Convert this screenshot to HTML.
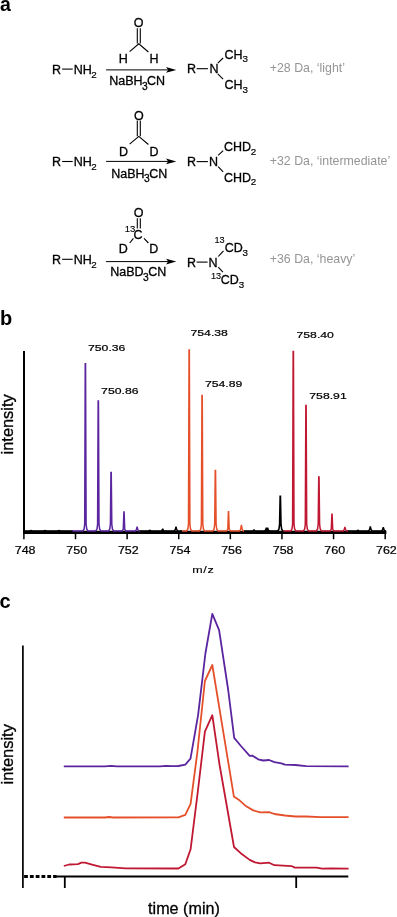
<!DOCTYPE html>
<html lang="en">
<head>
<meta charset="utf-8">
<title>Stable isotope dimethyl labeling</title>
<style>
html,body{margin:0;padding:0;background:#fff;}
body{width:397px;height:917px;overflow:hidden;}
svg{display:block;font-family:'Liberation Sans', Arial, Helvetica, sans-serif;}
</style>
</head>
<body>
<svg width="397" height="917" viewBox="0 0 397 917" style="font-family:'Liberation Sans', Arial, Helvetica, sans-serif">
<rect x="0" y="0" width="397" height="917" fill="#ffffff"/>
<text x="0" y="11.3" font-size="19.5" fill="#000" text-anchor="start" font-weight="bold">a</text>
<text x="0" y="325" font-size="20" fill="#000" text-anchor="start" font-weight="bold">b</text>
<text x="-0.5" y="608" font-size="20" fill="#000" text-anchor="start" font-weight="bold">c</text>
<text x="52.1" y="73.5" font-size="12.5" fill="#000" text-anchor="start" stroke="#000" stroke-width="0.3">R</text>
<line x1="62.1" y1="69.1" x2="72.7" y2="69.1" stroke="#000" stroke-width="1.1"/>
<text x="73.7" y="73.5" font-size="12.5" fill="#000" text-anchor="start" stroke="#000" stroke-width="0.3">NH</text>
<text x="91.2" y="77.8" font-size="9.8" fill="#000" text-anchor="start" stroke="#000" stroke-width="0.2">2</text>
<line x1="106.1" y1="69.9" x2="168" y2="69.9" stroke="#000" stroke-width="1.0"/>
<path d="M176.3,69.9 L166.0,67.0 L168.2,69.9 L166.0,72.80000000000001 Z" fill="#000"/>
<text x="109.2" y="85.3" font-size="12.5" fill="#000" text-anchor="start" stroke="#000" stroke-width="0.3">NaBH</text>
<text x="141.9" y="90.0" font-size="10.2" fill="#000" text-anchor="start" stroke="#000" stroke-width="0.3">3</text>
<text x="147.1" y="85.3" font-size="12.5" fill="#000" text-anchor="start" stroke="#000" stroke-width="0.3">CN</text>
<text x="138.7" y="27.1" font-size="12.5" fill="#000" text-anchor="middle" stroke="#000" stroke-width="0.3">O</text>
<line x1="137.3" y1="28.3" x2="137.3" y2="43.6" stroke="#000" stroke-width="1.1"/>
<line x1="140.3" y1="28.3" x2="140.3" y2="43.6" stroke="#000" stroke-width="1.1"/>
<path d="M129.6,51.7 L138.8,43.8 L148.4,52" fill="none" stroke="#000" stroke-width="1.1"/>
<text x="118.8" y="63.2" font-size="12.5" fill="#000" text-anchor="start" stroke="#000" stroke-width="0.3">H</text>
<text x="149.6" y="63.2" font-size="12.5" fill="#000" text-anchor="start" stroke="#000" stroke-width="0.3">H</text>
<text x="186.9" y="73.0" font-size="12.5" fill="#000" text-anchor="start" stroke="#000" stroke-width="0.3">R</text>
<line x1="196.6" y1="68.7" x2="207.9" y2="68.7" stroke="#000" stroke-width="1.1"/>
<text x="209.5" y="73.0" font-size="12.5" fill="#000" text-anchor="start" stroke="#000" stroke-width="0.3">N</text>
<line x1="217.8" y1="63.2" x2="223.1" y2="58.0" stroke="#000" stroke-width="1.1"/>
<line x1="217.8" y1="73.9" x2="223.1" y2="79.1" stroke="#000" stroke-width="1.1"/>
<text x="224.5" y="58.7" font-size="12.5" fill="#000" text-anchor="start" stroke="#000" stroke-width="0.3">CH</text>
<text x="242.5" y="62.0" font-size="9.8" fill="#000" text-anchor="start" stroke="#000" stroke-width="0.2">3</text>
<text x="224.5" y="89.1" font-size="12.5" fill="#000" text-anchor="start" stroke="#000" stroke-width="0.3">CH</text>
<text x="242.5" y="93.0" font-size="9.8" fill="#000" text-anchor="start" stroke="#000" stroke-width="0.2">3</text>
<text x="269.8" y="72.3" font-size="12.35" fill="#959595" text-anchor="start">+28 Da, ‘light’</text>
<text x="52.1" y="165.8" font-size="12.5" fill="#000" text-anchor="start" stroke="#000" stroke-width="0.3">R</text>
<line x1="62.1" y1="161.5" x2="72.7" y2="161.5" stroke="#000" stroke-width="1.1"/>
<text x="73.7" y="165.8" font-size="12.5" fill="#000" text-anchor="start" stroke="#000" stroke-width="0.3">NH</text>
<text x="91.2" y="170.10000000000002" font-size="9.8" fill="#000" text-anchor="start" stroke="#000" stroke-width="0.2">2</text>
<line x1="106.1" y1="161.4" x2="168" y2="161.4" stroke="#000" stroke-width="1.0"/>
<path d="M176.3,161.4 L166.0,158.5 L168.2,161.4 L166.0,164.3 Z" fill="#000"/>
<text x="111.3" y="177.7" font-size="12.5" fill="#000" text-anchor="start" stroke="#000" stroke-width="0.3">NaBH</text>
<text x="144.0" y="182.39999999999998" font-size="10.2" fill="#000" text-anchor="start" stroke="#000" stroke-width="0.3">3</text>
<text x="149.2" y="177.7" font-size="12.5" fill="#000" text-anchor="start" stroke="#000" stroke-width="0.3">CN</text>
<text x="138.9" y="119.7" font-size="12.5" fill="#000" text-anchor="middle" stroke="#000" stroke-width="0.3">O</text>
<line x1="137.3" y1="120.4" x2="137.3" y2="136.2" stroke="#000" stroke-width="1.1"/>
<line x1="140.3" y1="120.4" x2="140.3" y2="136.2" stroke="#000" stroke-width="1.1"/>
<path d="M129.6,144.2 L138.8,136.4 L148.4,144.5" fill="none" stroke="#000" stroke-width="1.1"/>
<text x="119.0" y="155.7" font-size="12.5" fill="#000" text-anchor="start" stroke="#000" stroke-width="0.3">D</text>
<text x="149.6" y="155.7" font-size="12.5" fill="#000" text-anchor="start" stroke="#000" stroke-width="0.3">D</text>
<text x="186.9" y="166.0" font-size="12.5" fill="#000" text-anchor="start" stroke="#000" stroke-width="0.3">R</text>
<line x1="196.6" y1="161.6" x2="207.9" y2="161.6" stroke="#000" stroke-width="1.1"/>
<text x="208.9" y="166.0" font-size="12.5" fill="#000" text-anchor="start" stroke="#000" stroke-width="0.3">N</text>
<line x1="218.1" y1="155.4" x2="223.2" y2="150.6" stroke="#000" stroke-width="1.1"/>
<line x1="218.1" y1="166.6" x2="223.2" y2="171.8" stroke="#000" stroke-width="1.1"/>
<text x="224.0" y="151.3" font-size="12.5" fill="#000" text-anchor="start" stroke="#000" stroke-width="0.3">CHD</text>
<text x="250.8" y="154.7" font-size="9.8" fill="#000" text-anchor="start" stroke="#000" stroke-width="0.2">2</text>
<text x="224.0" y="181.9" font-size="12.5" fill="#000" text-anchor="start" stroke="#000" stroke-width="0.3">CHD</text>
<text x="250.8" y="185.4" font-size="9.8" fill="#000" text-anchor="start" stroke="#000" stroke-width="0.2">2</text>
<text x="269.8" y="165.3" font-size="12.35" fill="#959595" text-anchor="start">+32 Da, ‘intermediate’</text>
<text x="52.1" y="263.8" font-size="12.5" fill="#000" text-anchor="start" stroke="#000" stroke-width="0.3">R</text>
<line x1="62.1" y1="259.3" x2="72.7" y2="259.3" stroke="#000" stroke-width="1.1"/>
<text x="73.7" y="263.8" font-size="12.5" fill="#000" text-anchor="start" stroke="#000" stroke-width="0.3">NH</text>
<text x="91.2" y="268.1" font-size="9.8" fill="#000" text-anchor="start" stroke="#000" stroke-width="0.2">2</text>
<line x1="106.1" y1="261.6" x2="168" y2="261.6" stroke="#000" stroke-width="1.0"/>
<path d="M176.3,261.6 L166.0,258.70000000000005 L168.2,261.6 L166.0,264.5 Z" fill="#000"/>
<text x="110.3" y="276.2" font-size="12.5" fill="#000" text-anchor="start" stroke="#000" stroke-width="0.3">NaBD</text>
<text x="143.0" y="280.9" font-size="10.2" fill="#000" text-anchor="start" stroke="#000" stroke-width="0.3">3</text>
<text x="148.2" y="276.2" font-size="12.5" fill="#000" text-anchor="start" stroke="#000" stroke-width="0.3">CN</text>
<text x="138.7" y="217.2" font-size="12.5" fill="#000" text-anchor="middle" stroke="#000" stroke-width="0.3">O</text>
<line x1="137.3" y1="218.3" x2="137.3" y2="228.6" stroke="#000" stroke-width="1.1"/>
<line x1="140.3" y1="218.3" x2="140.3" y2="228.6" stroke="#000" stroke-width="1.1"/>
<text x="133.6" y="239.0" font-size="12.5" fill="#000" text-anchor="start" stroke="#000" stroke-width="0.3">C</text>
<text x="124.7" y="231.7" font-size="9.5" fill="#000" text-anchor="start" stroke="#000" stroke-width="0.12">13</text>
<line x1="133.4" y1="238.3" x2="129.7" y2="243.0" stroke="#000" stroke-width="1.1"/>
<line x1="144.0" y1="238.3" x2="148.4" y2="243.0" stroke="#000" stroke-width="1.1"/>
<text x="118.7" y="253.4" font-size="12.5" fill="#000" text-anchor="start" stroke="#000" stroke-width="0.3">D</text>
<text x="149.3" y="253.4" font-size="12.5" fill="#000" text-anchor="start" stroke="#000" stroke-width="0.3">D</text>
<text x="186.9" y="266.8" font-size="12.5" fill="#000" text-anchor="start" stroke="#000" stroke-width="0.3">R</text>
<line x1="196.6" y1="262.1" x2="207.6" y2="262.1" stroke="#000" stroke-width="1.1"/>
<text x="208.4" y="267.0" font-size="12.5" fill="#000" text-anchor="start" stroke="#000" stroke-width="0.3">N</text>
<line x1="218.3" y1="256.5" x2="223.5" y2="250.8" stroke="#000" stroke-width="1.1"/>
<line x1="218.3" y1="267.1" x2="222.9" y2="272.2" stroke="#000" stroke-width="1.1"/>
<text x="214.4" y="242.8" font-size="9.2" fill="#000" text-anchor="start" stroke="#000" stroke-width="0.12">13</text>
<text x="224.8" y="252.3" font-size="12.5" fill="#000" text-anchor="start" stroke="#000" stroke-width="0.3">CD</text>
<text x="242.6" y="256.1" font-size="9.8" fill="#000" text-anchor="start" stroke="#000" stroke-width="0.2">3</text>
<text x="210.9" y="278.7" font-size="9.2" fill="#000" text-anchor="start" stroke="#000" stroke-width="0.12">13</text>
<text x="220.7" y="284.3" font-size="12.5" fill="#000" text-anchor="start" stroke="#000" stroke-width="0.3">CD</text>
<text x="238.8" y="288.2" font-size="9.8" fill="#000" text-anchor="start" stroke="#000" stroke-width="0.2">3</text>
<text x="269.8" y="262.5" font-size="12.35" fill="#959595" text-anchor="start">+36 Da, ‘heavy’</text>
<line x1="24" y1="351" x2="24" y2="533" stroke="#000" stroke-width="2.0"/>
<line x1="23" y1="532.3" x2="386.4" y2="532.3" stroke="#000" stroke-width="3.2"/>
<line x1="23.9" y1="532" x2="23.9" y2="539.2" stroke="#000" stroke-width="1.5"/>
<text transform="translate(25.1,554.1) scale(1.25,1)" font-size="10" fill="#000" text-anchor="middle" stroke="#000" stroke-width="0.2">748</text>
<line x1="75.50999999999999" y1="532" x2="75.50999999999999" y2="539.2" stroke="#000" stroke-width="1.5"/>
<text transform="translate(76.71,554.1) scale(1.25,1)" font-size="10" fill="#000" text-anchor="middle" stroke="#000" stroke-width="0.2">750</text>
<line x1="127.12" y1="532" x2="127.12" y2="539.2" stroke="#000" stroke-width="1.5"/>
<text transform="translate(128.32,554.1) scale(1.25,1)" font-size="10" fill="#000" text-anchor="middle" stroke="#000" stroke-width="0.2">752</text>
<line x1="178.73" y1="532" x2="178.73" y2="539.2" stroke="#000" stroke-width="1.5"/>
<text transform="translate(179.93,554.1) scale(1.25,1)" font-size="10" fill="#000" text-anchor="middle" stroke="#000" stroke-width="0.2">754</text>
<line x1="230.34" y1="532" x2="230.34" y2="539.2" stroke="#000" stroke-width="1.5"/>
<text transform="translate(231.54,554.1) scale(1.25,1)" font-size="10" fill="#000" text-anchor="middle" stroke="#000" stroke-width="0.2">756</text>
<line x1="281.95" y1="532" x2="281.95" y2="539.2" stroke="#000" stroke-width="1.5"/>
<text transform="translate(283.15,554.1) scale(1.25,1)" font-size="10" fill="#000" text-anchor="middle" stroke="#000" stroke-width="0.2">758</text>
<line x1="333.55999999999995" y1="532" x2="333.55999999999995" y2="539.2" stroke="#000" stroke-width="1.5"/>
<text transform="translate(334.76,554.1) scale(1.25,1)" font-size="10" fill="#000" text-anchor="middle" stroke="#000" stroke-width="0.2">760</text>
<line x1="385.16999999999996" y1="532" x2="385.16999999999996" y2="539.2" stroke="#000" stroke-width="1.5"/>
<text transform="translate(386.37,554.1) scale(1.25,1)" font-size="10" fill="#000" text-anchor="middle" stroke="#000" stroke-width="0.2">762</text>
<text transform="translate(192.2,573.1) scale(1.33,1)" font-size="9.4" fill="#000" text-anchor="start" letter-spacing="0.5" stroke="#000" stroke-width="0.12">m/z</text>
<text transform="translate(12.8,454.4) rotate(-90)" font-size="16" fill="#000" text-anchor="start" textLength="60.1" lengthAdjust="spacingAndGlyphs" stroke="#000" stroke-width="0.3">intensity</text>
<path d="M24,531.1 L29.2,531.1 L30.3,530.9 L30.9,530.6 L31.1,530.6 L31.7,530.9 L32.8,531.1 L43.2,531.1 L44.3,530.9 L44.9,530.6 L45.1,530.6 L45.7,530.9 L46.8,531.1 L57.2,531.1 L58.3,530.9 L58.9,530.6 L59.1,530.6 L59.7,530.9 L60.8,531.1 L73,531.1" fill="none" stroke="#000" stroke-width="1.6" stroke-linejoin="miter" stroke-miterlimit="20"/>
<path d="M138.5,531.1 L148.0,531.1 L149.1,530.82 L149.7,530.4 L149.9,530.4 L150.5,530.82 L151.6,531.1 L160.9,531.1 L162.0,530.34 L162.6,529.2 L162.8,529.2 L163.4,530.34 L164.5,531.1 L174.2,531.1 L175.3,529.62 L175.9,527.4 L176.1,527.4 L176.7,529.62 L177.8,531.1 L182.2,531.1" fill="none" stroke="#000" stroke-width="1.6" stroke-linejoin="miter" stroke-miterlimit="20"/>
<path d="M244,531.1 L252.2,531.1 L253.3,530.66 L253.9,530.0 L254.1,530.0 L254.7,530.66 L255.8,531.1 L264.5,531.1 L265.6,529.94 L266.2,528.2 L266.4,528.2 L267.0,529.94 L268.1,531.1 L265.8,531.1 L266.9,529.94 L267.5,528.2 L267.7,528.2 L268.3,529.94 L269.4,531.1 L277.7,531.1 L279.0,528.9 L279.6,524.1 L280.15,496.4 L280.45,496.4 L281.0,524.1 L281.6,528.9 L282.9,531.1 L283.6,531.1" fill="none" stroke="#000" stroke-width="1.6" stroke-linejoin="miter" stroke-miterlimit="20"/>
<path d="M346.5,531.1 L356.2,531.1 L357.3,530.74 L357.9,530.2 L358.1,530.2 L358.7,530.74 L359.8,531.1 L368.5,531.1 L369.6,529.46 L370.2,527.0 L370.4,527.0 L371.0,529.46 L372.1,531.1 L381.5,531.1 L382.6,529.78 L383.2,527.8 L383.4,527.8 L384.0,529.78 L385.1,531.1 L386,531.1" fill="none" stroke="#000" stroke-width="1.6" stroke-linejoin="miter" stroke-miterlimit="20"/>
<path d="M72.3,531.1 L82.8,531.1 L84.1,528.9 L84.7,524.1 L85.25,363.8 L85.55,363.8 L86.1,524.1 L86.7,528.9 L88.0,531.1 L95.7,531.1 L97.0,528.9 L97.6,524.1 L98.15,401.1 L98.45,401.1 L99.0,524.1 L99.6,528.9 L100.9,531.1 L108.5,531.1 L109.8,528.9 L110.4,524.1 L110.95,472.4 L111.25,472.4 L111.8,524.1 L112.4,528.9 L113.7,531.1 L122.2,531.1 L123.3,529.1 L123.9,512.1 L124.1,512.1 L124.7,529.1 L125.8,531.1 L135.3,531.1 L136.4,529.58 L137.0,527.3 L137.2,527.3 L137.8,529.58 L138.9,531.1 L138.5,531.1" fill="none" stroke="#5a259e" stroke-width="1.5" stroke-linejoin="miter" stroke-miterlimit="20"/>
<path d="M182.2,531.1 L186.6,531.1 L187.9,528.9 L188.5,524.1 L189.05,349.9 L189.35,349.9 L189.9,524.1 L190.5,528.9 L191.8,531.1 L199.5,531.1 L200.8,528.9 L201.4,524.1 L201.95,395.5 L202.25,395.5 L202.8,524.1 L203.4,528.9 L204.7,531.1 L212.8,531.1 L214.1,528.9 L214.7,524.1 L215.25,470.4 L215.55,470.4 L216.1,524.1 L216.7,528.9 L218.0,531.1 L226.7,531.1 L227.8,529.1 L228.4,511.8 L228.6,511.8 L229.2,529.1 L230.3,531.1 L239.6,531.1 L240.7,529.1 L241.3,525.6 L241.5,525.6 L242.1,529.1 L243.2,531.1 L244,531.1" fill="none" stroke="#e5502a" stroke-width="1.5" stroke-linejoin="miter" stroke-miterlimit="20"/>
<path d="M283.6,531.1 L290.7,531.1 L292.0,528.9 L292.6,524.1 L293.15,351.4 L293.45,351.4 L294.0,524.1 L294.6,528.9 L295.9,531.1 L303.4,531.1 L304.7,528.9 L305.3,524.1 L305.85,405.6 L306.15,405.6 L306.7,524.1 L307.3,528.9 L308.6,531.1 L316.3,531.1 L317.6,528.9 L318.2,524.1 L318.75,476.9 L319.05,476.9 L319.6,524.1 L320.2,528.9 L321.5,531.1 L330.2,531.1 L331.3,529.1 L331.9,514.2 L332.1,514.2 L332.7,529.1 L333.8,531.1 L343.1,531.1 L344.2,529.7 L344.8,527.6 L345.0,527.6 L345.6,529.7 L346.7,531.1 L346.5,531.1" fill="none" stroke="#c01832" stroke-width="1.5" stroke-linejoin="miter" stroke-miterlimit="20"/>
<text transform="translate(88.0,351.3) scale(1.36,1)" font-size="9" fill="#000" text-anchor="start" stroke="#000" stroke-width="0.2">750.36</text>
<text transform="translate(101.1,394.2) scale(1.36,1)" font-size="9" fill="#000" text-anchor="start" stroke="#000" stroke-width="0.2">750.86</text>
<text transform="translate(190.5,336.0) scale(1.36,1)" font-size="9" fill="#000" text-anchor="start" stroke="#000" stroke-width="0.2">754.38</text>
<text transform="translate(204.9,387.3) scale(1.36,1)" font-size="9" fill="#000" text-anchor="start" stroke="#000" stroke-width="0.2">754.89</text>
<text transform="translate(296.5,337.6) scale(1.36,1)" font-size="9" fill="#000" text-anchor="start" stroke="#000" stroke-width="0.2">758.40</text>
<text transform="translate(309.3,399.4) scale(1.36,1)" font-size="9" fill="#000" text-anchor="start" stroke="#000" stroke-width="0.2">758.91</text>
<line x1="22.9" y1="645.4" x2="22.9" y2="888" stroke="#000" stroke-width="1.7"/>
<line x1="56" y1="876.4" x2="348.3" y2="876.4" stroke="#000" stroke-width="2.0"/>
<line x1="22.9" y1="876.4" x2="56.5" y2="876.4" stroke="#000" stroke-width="3.0" stroke-dasharray="3.8 2.0" stroke-dashoffset="-1.2"/>
<line x1="64.8" y1="876.4" x2="64.8" y2="888" stroke="#000" stroke-width="1.8"/>
<line x1="296.2" y1="876.4" x2="296.2" y2="888" stroke="#000" stroke-width="1.8"/>
<text x="148.1" y="913.6" font-size="16.15" fill="#000" text-anchor="start" stroke="#000" stroke-width="0.3">time (min)</text>
<text transform="translate(12.8,784.4) rotate(-90)" font-size="16" fill="#000" stroke="#000" stroke-width="0.3" textLength="60.3" lengthAdjust="spacingAndGlyphs">intensity</text>
<path d="M63.8,766.3 L105,766.3 L111,765.9 L117,766.3 L160,766.3 L166,765.9 L172,766.1 L178.4,766.0 L185.3,764.6 L190.5,758.6 L198.1,715.2 L205.4,653.5 L212.3,613.9 L219.1,630.2 L228.2,690 L234.2,737.9 L240.5,745.5 L249.7,755.9 L252.5,755.7 L258.2,759.3 L263.2,760.5 L269.1,760.0 L274.4,762.2 L281.4,763.3 L284.9,764.7 L295.5,765.0 L306.1,766.1 L348.6,766.4" fill="none" stroke="#5a259e" stroke-width="1.8" stroke-linejoin="round" stroke-linecap="butt"/>
<path d="M63.8,817.5 L105,817.5 L109,817.0 L113,817.5 L178.4,817.3 L185.3,814.8 L190.6,803.9 L197.4,752 L204.9,681.0 L212.3,665.0 L219.5,708.9 L226.8,753.3 L233.9,796.6 L239.8,800.6 L246.2,806.3 L253.2,810.4 L260.3,812.3 L269.1,812.2 L274.4,814.0 L284.9,815.5 L295.5,816.5 L306.1,816.5 L320.2,817.2 L348.6,817.2" fill="none" stroke="#e5502a" stroke-width="1.8" stroke-linejoin="round" stroke-linecap="butt"/>
<path d="M63.8,866.0 L69.1,864.5 L77.9,864.1 L81.4,862.7 L85.0,862.7 L92,864.6 L100.8,866.9 L111.4,867.3 L125.5,868.4 L178.4,868.5 L185.3,864.3 L190.6,849.3 L198.0,790 L204.9,731.6 L212.3,715.2 L219.5,764.5 L226.8,806 L234.0,847.0 L240.7,853.2 L249.7,859.9 L255.0,862.4 L260.3,863.4 L269.1,862.7 L274.4,865.2 L292.0,866.2 L294.8,867.6 L316.7,867.6 L322.0,868.7 L330.8,868.4 L348.6,868.7" fill="none" stroke="#c01832" stroke-width="1.8" stroke-linejoin="round" stroke-linecap="butt"/>
</svg>
</body>
</html>
